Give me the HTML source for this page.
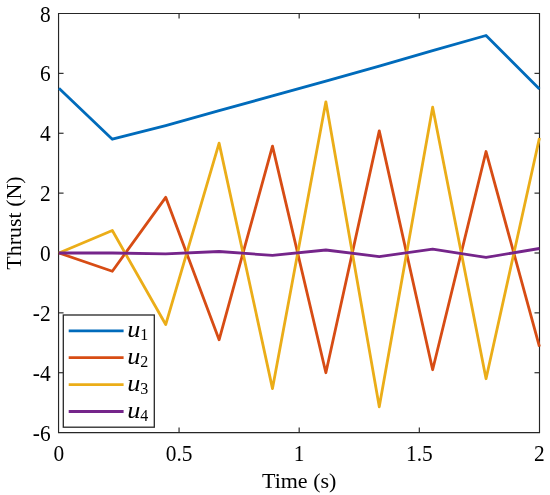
<!DOCTYPE html>
<html><head><meta charset="utf-8"><style>
html,body{margin:0;padding:0;background:#fff;}
svg{display:block;}
text{font-family:"Liberation Serif",serif;font-size:23px;fill:#000;}
.u{font-style:italic;font-size:22.3px;}
.sub{font-style:normal;font-size:16px;}
</style></head><body>
<svg width="550" height="495" viewBox="0 0 550 495">
<rect width="550" height="495" fill="#fff"/>

<g stroke="#262626" stroke-width="1.15" fill="none">
<path d="M58.55,12.925V433.175M539.5,12.925V433.175M57.975,13.5H540.075M57.975,432.6H540.075"/><line x1="58.55" y1="372.73" x2="63.55" y2="372.73"/><line x1="539.50" y1="372.73" x2="534.50" y2="372.73"/><line x1="58.55" y1="312.86" x2="63.55" y2="312.86"/><line x1="539.50" y1="312.86" x2="534.50" y2="312.86"/><line x1="58.55" y1="252.99" x2="63.55" y2="252.99"/><line x1="539.50" y1="252.99" x2="534.50" y2="252.99"/><line x1="58.55" y1="193.12" x2="63.55" y2="193.12"/><line x1="539.50" y1="193.12" x2="534.50" y2="193.12"/><line x1="58.55" y1="133.25" x2="63.55" y2="133.25"/><line x1="539.50" y1="133.25" x2="534.50" y2="133.25"/><line x1="58.55" y1="73.37" x2="63.55" y2="73.37"/><line x1="539.50" y1="73.37" x2="534.50" y2="73.37"/><line x1="179.06" y1="432.60" x2="179.06" y2="427.60"/><line x1="179.06" y1="13.50" x2="179.06" y2="18.50"/><line x1="299.18" y1="432.60" x2="299.18" y2="427.60"/><line x1="299.18" y1="13.50" x2="299.18" y2="18.50"/><line x1="419.31" y1="432.60" x2="419.31" y2="427.60"/><line x1="419.31" y1="13.50" x2="419.31" y2="18.50"/>
</g>
<g fill="none" stroke-width="2.8" stroke-linejoin="round" stroke-linecap="butt">
<polyline points="58.93,88.34 112.32,139.23 165.71,125.55 219.10,110.70 272.49,95.83 325.87,81.16 379.26,66.04 432.65,50.71 486.04,35.50 539.43,88.94" stroke="#006BBB"/>
<polyline points="58.93,252.99 112.32,271.25 165.71,197.31 219.10,339.80 272.49,146.12 325.87,372.73 379.26,130.85 432.65,369.74 486.04,151.51 539.43,346.69" stroke="#D74C14"/>
<polyline points="58.93,252.99 112.32,230.54 165.71,324.54 219.10,143.12 272.49,388.60 325.87,101.81 379.26,406.86 432.65,107.20 486.04,378.72 539.43,138.04" stroke="#EBAD18"/>
<polyline points="58.93,252.99 112.32,252.99 165.71,253.89 219.10,251.49 272.49,255.38 325.87,250.00 379.26,256.58 432.65,249.10 486.04,257.48 539.43,248.50" stroke="#75258A"/>
</g>
<g><text transform="translate(50.63,440.61) scale(0.93,1)" text-anchor="end">-6</text><text transform="translate(50.63,380.73) scale(0.93,1)" text-anchor="end">-4</text><text transform="translate(50.63,320.86) scale(0.93,1)" text-anchor="end">-2</text><text transform="translate(50.63,260.99) scale(0.93,1)" text-anchor="end">0</text><text transform="translate(50.63,201.12) scale(0.93,1)" text-anchor="end">2</text><text transform="translate(50.63,141.25) scale(0.93,1)" text-anchor="end">4</text><text transform="translate(50.63,81.37) scale(0.93,1)" text-anchor="end">6</text><text transform="translate(50.63,21.50) scale(0.93,1)" text-anchor="end">8</text><text transform="translate(58.93,460.61) scale(0.93,1)" text-anchor="middle">0</text><text transform="translate(179.06,460.61) scale(0.93,1)" text-anchor="middle">0.5</text><text transform="translate(299.18,460.61) scale(0.93,1)" text-anchor="middle">1</text><text transform="translate(419.31,460.61) scale(0.93,1)" text-anchor="middle">1.5</text><text transform="translate(539.43,460.61) scale(0.93,1)" text-anchor="middle">2</text></g>
<text x="299.18" y="487.61" text-anchor="middle" style="font-size:22px">Time (s)</text>
<text transform="translate(21.3,223.05) rotate(-90)" text-anchor="middle" style="font-size:22px">Thrust (N)</text>
<rect x="63.3" y="315.0" width="91.00" height="112.20" fill="#fff" stroke="#262626" stroke-width="1.3"/><line x1="68.7" y1="330.8" x2="123.6" y2="330.8" stroke="#006BBB" stroke-width="2.8"/><text transform="translate(127.2,337.00) scale(1.18,1)" class="u">u</text><text x="140.3" y="339.80" class="sub">1</text><line x1="68.7" y1="357.7" x2="123.6" y2="357.7" stroke="#D74C14" stroke-width="2.8"/><text transform="translate(127.2,363.90) scale(1.18,1)" class="u">u</text><text x="140.3" y="366.70" class="sub">2</text><line x1="68.7" y1="384.6" x2="123.6" y2="384.6" stroke="#EBAD18" stroke-width="2.8"/><text transform="translate(127.2,390.80) scale(1.18,1)" class="u">u</text><text x="140.3" y="393.60" class="sub">3</text><line x1="68.7" y1="411.5" x2="123.6" y2="411.5" stroke="#75258A" stroke-width="2.8"/><text transform="translate(127.2,417.70) scale(1.18,1)" class="u">u</text><text x="140.3" y="420.50" class="sub">4</text>
</svg>
</body></html>
